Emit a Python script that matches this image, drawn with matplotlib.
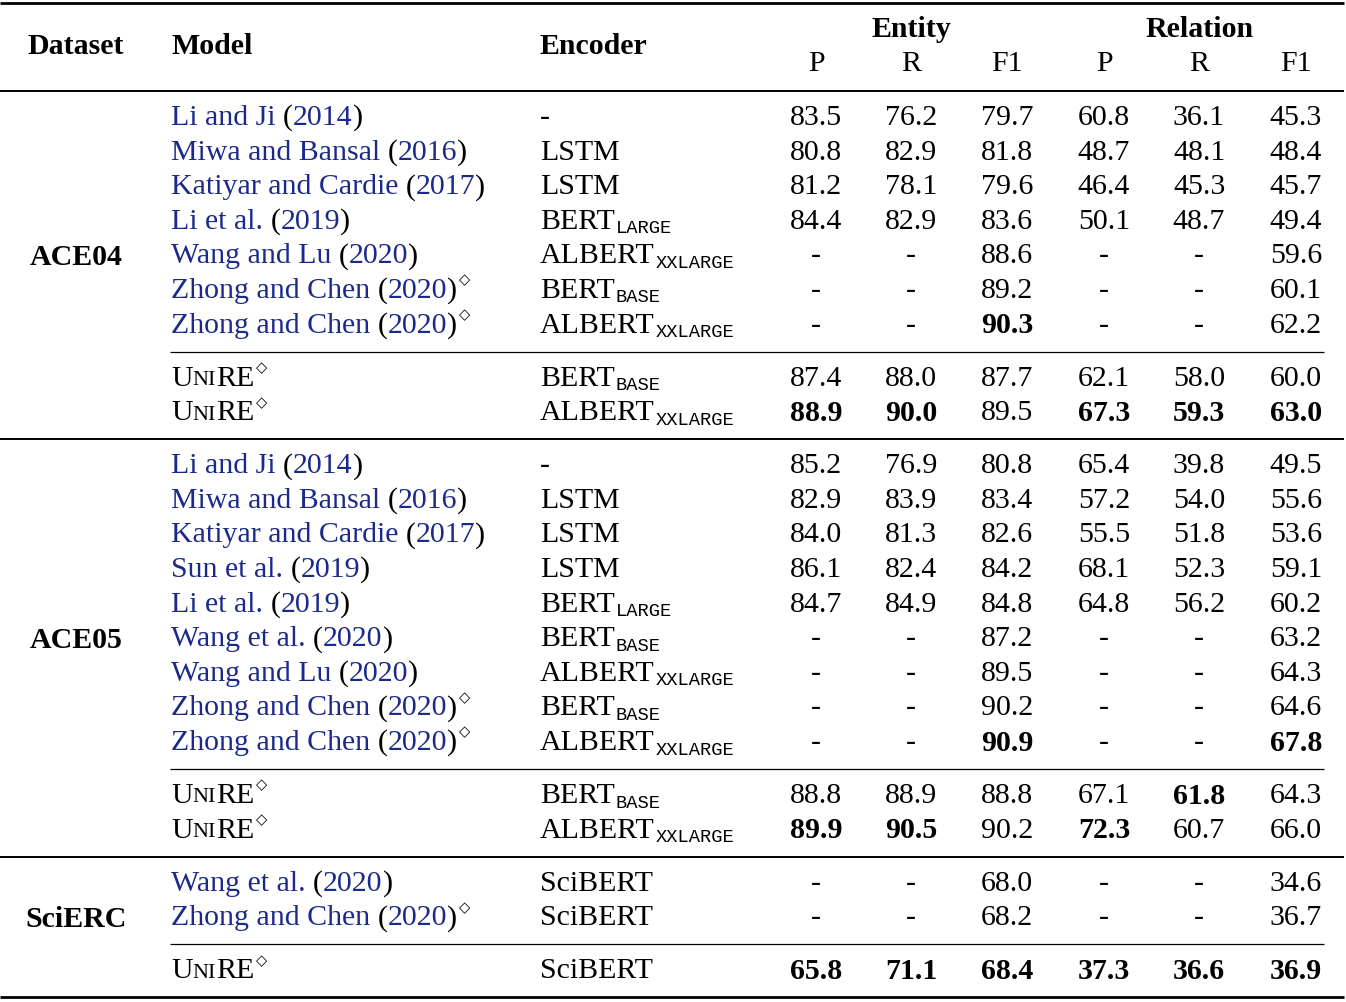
import matplotlib
matplotlib.use("Agg")
import matplotlib.pyplot as plt

W, H = 1346, 1002
FS = 21.5
SERIF = "Liberation Serif"
MONO = "Liberation Mono"
BLUE = "#1b2a8a"

# ---- data ----
datasets = ["ACE04", "ACE05", "SciERC"]
cols = ["P", "R", "F1", "P", "R", "F1"]

ace04_models = [("Li and Ji", "2014", False), ("Miwa and Bansal", "2016", False),
                ("Katiyar and Cardie", "2017", False), ("Li et al.", "2019", False),
                ("Wang and Lu", "2020", False), ("Zhong and Chen", "2020", True),
                ("Zhong and Chen", "2020", True)]
ace04_enc = [("-", ""), ("LSTM", ""), ("LSTM", ""), ("BERT", "LARGE"),
             ("ALBERT", "XXLARGE"), ("BERT", "BASE"), ("ALBERT", "XXLARGE")]
ace04_vals = [["83.5", "76.2", "79.7", "60.8", "36.1", "45.3"],
              ["80.8", "82.9", "81.8", "48.7", "48.1", "48.4"],
              ["81.2", "78.1", "79.6", "46.4", "45.3", "45.7"],
              ["84.4", "82.9", "83.6", "50.1", "48.7", "49.4"],
              ["-", "-", "88.6", "-", "-", "59.6"],
              ["-", "-", "89.2", "-", "-", "60.1"],
              ["-", "-", "90.3", "-", "-", "62.2"]]
ace04_bold = [[], [], [], [], [], [], [2]]
ace04_ours_enc = [("BERT", "BASE"), ("ALBERT", "XXLARGE")]
ace04_ours = [["87.4", "88.0", "87.7", "62.1", "58.0", "60.0"],
              ["88.9", "90.0", "89.5", "67.3", "59.3", "63.0"]]
ace04_ours_bold = [[], [0, 1, 3, 4, 5]]

ace05_models = [("Li and Ji", "2014", False), ("Miwa and Bansal", "2016", False),
                ("Katiyar and Cardie", "2017", False), ("Sun et al.", "2019", False),
                ("Li et al.", "2019", False), ("Wang et al.", "2020", False),
                ("Wang and Lu", "2020", False), ("Zhong and Chen", "2020", True),
                ("Zhong and Chen", "2020", True)]
ace05_enc = [("-", ""), ("LSTM", ""), ("LSTM", ""), ("LSTM", ""), ("BERT", "LARGE"),
             ("BERT", "BASE"), ("ALBERT", "XXLARGE"), ("BERT", "BASE"), ("ALBERT", "XXLARGE")]
ace05_vals = [["85.2", "76.9", "80.8", "65.4", "39.8", "49.5"],
              ["82.9", "83.9", "83.4", "57.2", "54.0", "55.6"],
              ["84.0", "81.3", "82.6", "55.5", "51.8", "53.6"],
              ["86.1", "82.4", "84.2", "68.1", "52.3", "59.1"],
              ["84.7", "84.9", "84.8", "64.8", "56.2", "60.2"],
              ["-", "-", "87.2", "-", "-", "63.2"],
              ["-", "-", "89.5", "-", "-", "64.3"],
              ["-", "-", "90.2", "-", "-", "64.6"],
              ["-", "-", "90.9", "-", "-", "67.8"]]
ace05_bold = [[], [], [], [], [], [], [], [], [2, 5]]
ace05_ours_enc = [("BERT", "BASE"), ("ALBERT", "XXLARGE")]
ace05_ours = [["88.8", "88.9", "88.8", "67.1", "61.8", "64.3"],
              ["89.9", "90.5", "90.2", "72.3", "60.7", "66.0"]]
ace05_ours_bold = [[4], [0, 1, 3]]

scierc_models = [("Wang et al.", "2020", False), ("Zhong and Chen", "2020", True)]
scierc_enc = [("SciBERT", ""), ("SciBERT", "")]
scierc_vals = [["-", "-", "68.0", "-", "-", "34.6"],
               ["-", "-", "68.2", "-", "-", "36.7"]]
scierc_bold = [[], []]
scierc_ours_enc = [("SciBERT", "")]
scierc_ours = [["65.8", "71.1", "68.4", "37.3", "36.6", "36.9"]]
scierc_ours_bold = [[0, 1, 2, 3, 4, 5]]

# ---- layout (pixels, y from top) ----
fig = plt.figure(figsize=(W / 100, H / 100), dpi=100)
ax = fig.add_axes([0, 0, 1, 1])
ax.set_xlim(0, W)
ax.set_ylim(H, 0)
ax.axis("off")
fig.canvas.draw()
renderer = fig.canvas.get_renderer()

X_DS, X_MODEL, X_ENC = 76, 171, 540
X_NUM = [816, 911, 1007, 1104, 1199, 1296]
STEP = 34.6


def put(x, y, s, **kw):
    kw.setdefault("family", SERIF)
    kw.setdefault("fontsize", FS)
    kw.setdefault("va", "center")
    return ax.text(x, y, s, **kw)


def width(t):
    return t.get_window_extent(renderer).width


def chain(x, y, pieces):
    # pieces: (text, kwargs, dy)
    for s, kw, dy in pieces:
        t = put(x, y + dy, s, ha="left", **kw)
        x += width(t)
    return x


def model_cell(y, name, year, diamond):
    x = chain(X_MODEL, y, [(name + " ", dict(color=BLUE), 0), ("(", {}, 0),
                           (year, dict(color=BLUE), 0), (")", {}, 0)])
    if diamond:
        put(x + 2, y - 11, "\u25c7", ha="left", family="DejaVu Sans", fontsize=10.5)


def unire_cell(y):
    x = chain(X_MODEL, y, [("U", {}, 0), ("NI", dict(fontsize=FS * 0.74), 1.8),
                           ("RE", {}, 0)])
    put(x + 2, y - 11, "\u25c7", ha="left", family="DejaVu Sans", fontsize=10.5)


def enc_cell(y, base, sub):
    x = chain(X_ENC, y, [(base, {}, 0)])
    if sub:
        put(x + 1, y + 7, sub, ha="left", family=MONO, fontsize=13.5)


def num_cells(y, vals, bold):
    for j, v in enumerate(vals):
        put(X_NUM[j], y, v, ha="center", weight="bold" if j in bold else "normal")


def hline(y, x0=0, x1=W - 2, lw=1.0):
    ax.plot([x0, x1], [y, y], color="black", lw=lw, solid_capstyle="butt")


# header
hline(3, lw=2.0)
put(X_DS, 46, "Dataset", ha="center", weight="bold")
put(X_MODEL, 46, "Model", ha="left", weight="bold")
put(X_ENC, 46, "Encoder", ha="left", weight="bold")
put(X_NUM[1], 29, "Entity", ha="center", weight="bold")
put(X_NUM[4], 29, "Relation", ha="center", weight="bold")
for j, c in enumerate(cols):
    put(X_NUM[j], 64, c, ha="center")
hline(91, lw=1.4)

blocks = [
    (datasets[0], ace04_models, ace04_enc, ace04_vals, ace04_bold,
     ace04_ours_enc, ace04_ours, ace04_ours_bold),
    (datasets[1], ace05_models, ace05_enc, ace05_vals, ace05_bold,
     ace05_ours_enc, ace05_ours, ace05_ours_bold),
    (datasets[2], scierc_models, scierc_enc, scierc_vals, scierc_bold,
     scierc_ours_enc, scierc_ours, scierc_ours_bold),
]

y_top = 91
for k, (ds, models, encs, vals, bolds, oenc, ovals, obolds) in enumerate(blocks):
    y = y_top + 27
    ys = []
    for (name, year, dia), (b, s), v, bd in zip(models, encs, vals, bolds):
        model_cell(y, name, year, dia)
        enc_cell(y, b, s)
        num_cells(y, v, bd)
        ys.append(y)
        y += STEP
    y_rule = y - STEP + 26
    hline(y_rule, x0=X_MODEL - 1, x1=W - 22, lw=0.9)
    y = y_rule + 27
    for (b, s), v, bd in zip(oenc, ovals, obolds):
        unire_cell(y)
        enc_cell(y, b, s)
        num_cells(y, v, bd)
        ys.append(y)
        y += STEP
    put(X_DS, (ys[0] + ys[-1]) / 2 - 8, ds, ha="center", weight="bold")
    y_top = y - STEP + 26
    hline(y_top, lw=2.0 if k == 2 else 1.4)

fig.savefig("out.png", dpi=100)
